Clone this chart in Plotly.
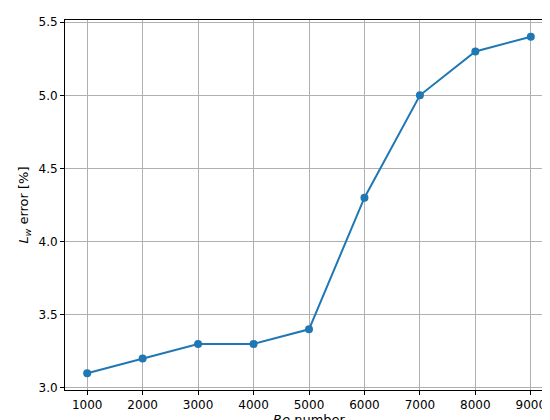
import plotly.graph_objects as go

re_numbers = [1000, 2000, 3000, 4000, 5000, 6000, 7000, 8000, 9000]
lw_error = [3.1, 3.2, 3.3, 3.3, 3.4, 4.3, 5.0, 5.3, 5.4]
x_ticks = re_numbers
y_ticks = [3.0, 3.5, 4.0, 4.5, 5.0, 5.5]

fig = go.Figure(go.Scatter(
    x=re_numbers, y=lw_error, mode="lines+markers",
    line=dict(color="#1f77b4", width=2),
    marker=dict(color="#1f77b4", size=8),
))
axis_common = dict(showline=True, linecolor="black", linewidth=1, mirror=True,
                   showgrid=True, gridcolor="#b0b0b0", gridwidth=1,
                   ticks="outside", ticklen=4, tickcolor="black", zeroline=False,
                   automargin=False,
                   tickfont=dict(family="DejaVu Sans", size=12, color="black"))
fig.update_xaxes(range=[600, 9400], tickvals=x_ticks,
                 title=dict(text="<i>Re</i> number", standoff=2,
                            font=dict(family="DejaVu Sans", size=13, color="black")),
                 **axis_common)
fig.update_yaxes(range=[2.985, 5.515], tickvals=y_ticks, tickformat=".1f",
                 title=dict(text="<i>L<sub>w</sub></i> error [%]", standoff=6,
                            font=dict(family="DejaVu Sans", size=13, color="black")),
                 **axis_common)
fig.update_layout(width=550, height=420, margin=dict(l=57, r=5, t=12, b=38),
                  plot_bgcolor="white", paper_bgcolor="white", showlegend=False)
fig.write_html("out.html")
